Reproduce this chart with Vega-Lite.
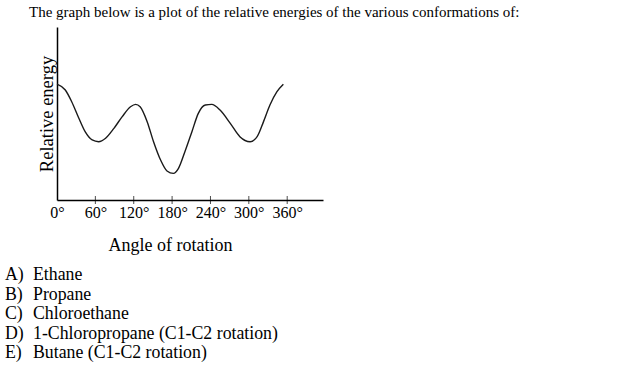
{
  "$schema": "https://vega.github.io/schema/vega-lite/v6.json",
  "autosize": "none",
  "width": 266,
  "height": 173,
  "padding": {"left": 57, "top": 27, "right": 304, "bottom": 169},
  "background": "white",
  "config": {"view": {"stroke": null}, "font": "Liberation Serif"},
  "title": {
    "text": "The graph below is a plot of the relative energies of the various conformations of:",
    "anchor": "start",
    "frame": "group",
    "dx": -28,
    "offset": 7,
    "font": "Liberation Serif",
    "fontSize": 15,
    "fontWeight": "normal",
    "color": "black"
  },
  "datasets": {
    "curve": [
      {"angle": 0, "energy": 6.7},
      {"angle": 13, "energy": 6.36},
      {"angle": 23, "energy": 5.68},
      {"angle": 34, "energy": 4.74},
      {"angle": 44, "energy": 3.95},
      {"angle": 55, "energy": 3.47},
      {"angle": 65, "energy": 3.37},
      {"angle": 76, "energy": 3.57},
      {"angle": 89, "energy": 4.14},
      {"angle": 102, "energy": 4.82},
      {"angle": 115, "energy": 5.39},
      {"angle": 123, "energy": 5.53},
      {"angle": 130, "energy": 5.39},
      {"angle": 141, "energy": 4.53},
      {"angle": 151, "energy": 3.37},
      {"angle": 162, "energy": 2.31},
      {"angle": 172, "energy": 1.68},
      {"angle": 182, "energy": 1.54},
      {"angle": 190, "energy": 1.83},
      {"angle": 200, "energy": 2.79},
      {"angle": 211, "energy": 3.95},
      {"angle": 221, "energy": 5.01},
      {"angle": 232, "energy": 5.49},
      {"angle": 242, "energy": 5.53},
      {"angle": 255, "energy": 5.2},
      {"angle": 271, "energy": 4.43},
      {"angle": 286, "energy": 3.66},
      {"angle": 302, "energy": 3.37},
      {"angle": 313, "energy": 3.66},
      {"angle": 323, "energy": 4.53},
      {"angle": 333, "energy": 5.49},
      {"angle": 344, "energy": 6.26},
      {"angle": 354, "energy": 6.69}
    ],
    "ticks": [
      {"angle": 60}, {"angle": 120}, {"angle": 180}, {"angle": 240}, {"angle": 300}, {"angle": 360}
    ],
    "choices": [
      {"row": 0, "letter": "A)", "name": "Ethane"},
      {"row": 1, "letter": "B)", "name": "Propane"},
      {"row": 2, "letter": "C)", "name": "Chloroethane"},
      {"row": 3, "letter": "D)", "name": "1-Chloropropane (C1-C2 rotation)"},
      {"row": 4, "letter": "E)", "name": "Butane (C1-C2 rotation)"}
    ]
  },
  "layer": [
    {
      "data": {"name": "curve"},
      "mark": {"type": "line", "interpolate": "monotone", "color": "#1a1a1a", "strokeWidth": 1.4},
      "encoding": {
        "x": {
          "field": "angle", "type": "quantitative",
          "scale": {"domain": [0, 416], "nice": false, "zero": false},
          "axis": {
            "values": [0, 60, 120, 180, 240, 300, 360],
            "labelExpr": "datum.value + '°'",
            "domain": true, "domainColor": "black", "domainWidth": 1.5,
            "ticks": false, "grid": false,
            "labelFont": "Liberation Serif", "labelFontSize": 16, "labelColor": "black",
            "labelBaseline": "alphabetic", "labelPadding": 17, "labelFlush": false, "labelOverlap": false,
            "title": "Angle of rotation",
            "titleFont": "Liberation Serif", "titleFontSize": 18, "titleFontWeight": "normal", "titleColor": "black",
            "titleBaseline": "alphabetic", "titleX": 113, "titleY": 50, "titleAnchor": "middle"
          }
        },
        "y": {
          "field": "energy", "type": "quantitative",
          "scale": {"domain": [0, 10], "nice": false},
          "axis": {
            "domain": true, "domainColor": "black", "domainWidth": 1.5,
            "ticks": false, "labels": false, "grid": false,
            "title": "Relative energy",
            "titleFont": "Liberation Serif", "titleFontSize": 18.5, "titleFontWeight": "normal", "titleColor": "black",
            "titleBaseline": "alphabetic", "titlePadding": 5
          }
        }
      }
    },
    {
      "data": {"name": "ticks"},
      "mark": {"type": "tick", "orient": "vertical", "size": 8, "thickness": 1, "color": "black"},
      "encoding": {
        "x": {"field": "angle", "type": "quantitative"},
        "y": {"datum": 0, "type": "quantitative", "scale": {"domain": [0, 10], "nice": false}, "axis": null}
      }
    },
    {
      "data": {"name": "choices"},
      "mark": {"type": "text", "align": "left", "baseline": "alphabetic", "dx": -52, "font": "Liberation Serif", "fontSize": 17.8, "color": "black"},
      "encoding": {
        "x": {"datum": 0, "type": "quantitative"},
        "y": {"field": "row", "type": "quantitative", "scale": {"domain": [0, 4], "range": [253, 331]}, "axis": null},
        "text": {"field": "letter"}
      }
    },
    {
      "data": {"name": "choices"},
      "mark": {"type": "text", "align": "left", "baseline": "alphabetic", "dx": -24, "font": "Liberation Serif", "fontSize": 17.8, "color": "black"},
      "encoding": {
        "x": {"datum": 0, "type": "quantitative"},
        "y": {"field": "row", "type": "quantitative", "scale": {"domain": [0, 4], "range": [253, 331]}, "axis": null},
        "text": {"field": "name"}
      }
    }
  ],
  "resolve": {"scale": {"y": "independent"}, "axis": {"y": "independent"}}
}
